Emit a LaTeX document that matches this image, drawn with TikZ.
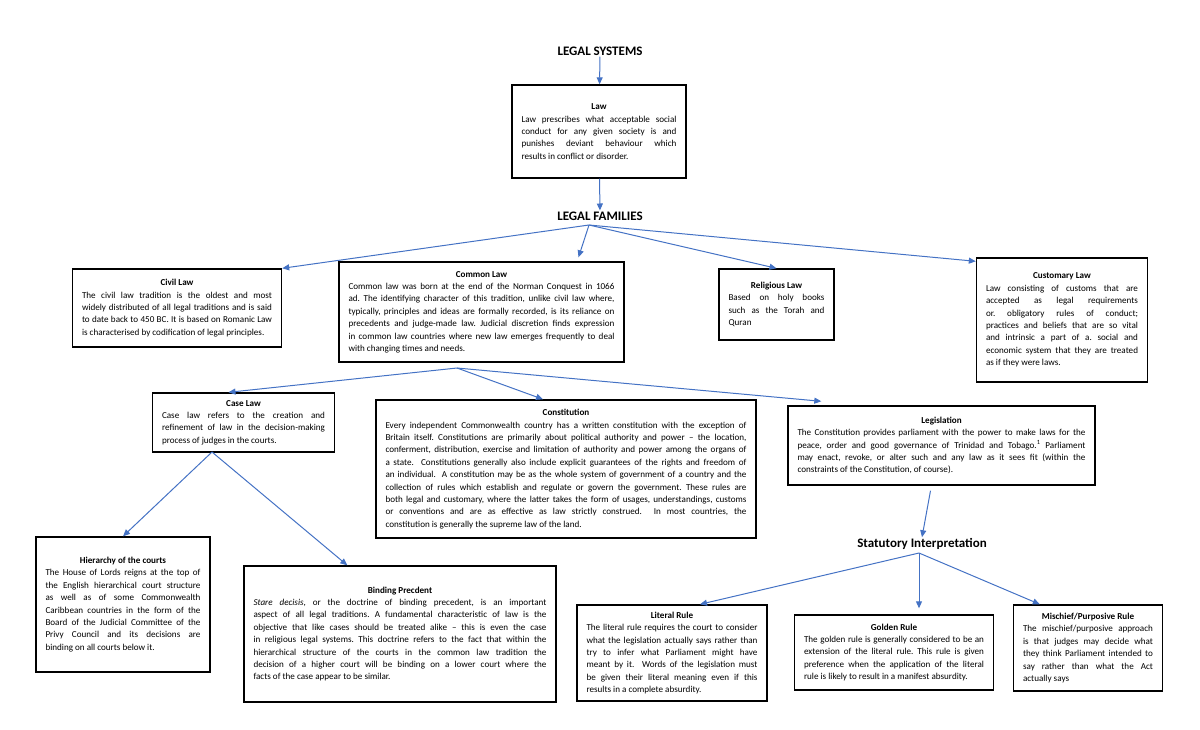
\documentclass[tikz,border=0pt]{standalone}
\usepackage{fontspec}
\setmainfont{Carlito}
\usetikzlibrary{arrows.meta}
\definecolor{linkblue}{HTML}{4472C4}
\frenchspacing
\hyphenpenalty=10000
\exhyphenpenalty=10000

\begin{document}
\begin{tikzpicture}[x = 1pt, y = -1pt, box/.style = {draw, line width = 1.4pt, align = justify, inner xsep = 9.5pt, inner ysep = 0pt, font = \fontsize{9.1}{12.4}\selectfont}, heading/.style = {font = \fontsize{13}{15}\selectfont\bfseries, inner sep = 1pt}, link/.style = {draw = linkblue, line width = 1pt, -{Triangle[length = 7pt, width = 6pt]}}]
        \useasboundingbox (0, 0) rectangle (1200, 729);
        \node[heading] (sys) at (600, 51) {LEGAL SYSTEMS};
        \node[heading] (fam) at (600, 216) {LEGAL FAMILIES};
        \node[heading] (stat) at (922, 544) {Statutory Interpretation};
        \node[box, text width = 155pt, minimum height = 93pt] (law) at (599, 131.5) {\makebox[\hsize]{\textbf{Law}}\\
            Law prescribes what acceptable social\linebreak conduct for any given society is and\linebreak punishes deviant behaviour which\linebreak results in conflict or disorder.};
        \node[box, text width = 190pt, minimum height = 78pt] (civil) at (177, 308) {\makebox[\hsize]{\textbf{Civil Law}}\\
            The civil law tradition is the oldest and most\linebreak widely distributed of all legal traditions and is said\linebreak to date back to 450 BC. It is based on Romanic Law\linebreak is characterised by codification of legal principles.};
        \node[box, text width = 266pt, minimum height = 100pt] (common) at (481.5, 312) {\makebox[\hsize]{\textbf{Common Law}}\\
            Common law was born at the end of the Norman Conquest in 1066\linebreak ad. The identifying character of this tradition, unlike civil law where,\linebreak typically, principles and ideas are formally recorded, is its reliance on\linebreak precedents and judge-made law. Judicial discretion finds expression\linebreak in common law countries where new law emerges frequently to deal\linebreak with changing times and needs.};
        \node[box, text width = 96pt, minimum height = 71pt] (religious) at (776.5, 304.5) {\makebox[\hsize]{\textbf{Religious Law}}\\
            Based on holy books\linebreak such as the Torah and\linebreak Quran};
        \node[box, text width = 152pt, minimum height = 124pt] (customary) at (1062, 320) {\makebox[\hsize]{\textbf{Customary Law}}\\
            Law consisting of customs that are\linebreak accepted as legal requirements\linebreak or. obligatory rules of conduct;\linebreak practices and beliefs that are so vital\linebreak and intrinsic a part of a. social and\linebreak economic system that they are treated\linebreak as if they were laws.};
        \node[box, text width = 163pt, minimum height = 59pt] (case) at (243.5, 422.5) {\makebox[\hsize]{\textbf{Case Law}}\\
            Case law refers to the creation and\linebreak refinement of law in the decision-making\linebreak process of judges in the courts.};
        \node[box, text width = 361pt, minimum height = 138pt] (constitution) at (566, 469) {\makebox[\hsize]{\textbf{Constitution}}\\
            Every independent Commonwealth country has a written constitution with the exception of\linebreak Britain itself. Constitutions are primarily about political authority and power -- the location,\linebreak conferment, distribution, exercise and limitation of authority and power among the organs of\linebreak a state.\ \ Constitutions generally also include explicit guarantees of the rights and freedom of\linebreak an individual.\ \ A constitution may be as the whole system of government of a country and the\linebreak collection of rules which establish and regulate or govern the government. These rules are\linebreak both legal and customary, where the latter takes the form of usages, understandings, customs\linebreak or conventions and are as effective as law strictly construed.\ \ In most countries, the\linebreak constitution is generally the supreme law of the land.};
        \node[box, text width = 288pt, minimum height = 79pt] (legislation) at (941.5, 445.5) {\makebox[\hsize]{\textbf{Legislation}}\\
            The Constitution provides parliament with the power to make laws for the\linebreak peace, order and good governance of Trinidad and Tobago.\textsuperscript{1} Parliament\linebreak may enact, revoke, or alter such and any law as it sees fit (within the\linebreak constraints of the Constitution, of course).};
        \node[box, text width = 155pt, minimum height = 135pt] (hierarchy) at (123, 604.5) {\makebox[\hsize]{\textbf{Hierarchy of the courts}}\\
            The House of Lords reigns at the top of\linebreak the English hierarchical court structure\linebreak as well as of some Commonwealth\linebreak Caribbean countries in the form of the\linebreak Board of the Judicial Committee of the\linebreak Privy Council and its decisions are\linebreak binding on all courts below it.};
        \node[box, text width = 293pt, minimum height = 136pt] (binding) at (400, 634) {\makebox[\hsize]{\textbf{Binding Precdent}}\\
            \textit{Stare decisis}, or the doctrine of binding precedent, is an important\linebreak aspect of all legal traditions. A fundamental characteristic of law is the\linebreak objective that like cases should be treated alike -- this is even the case\linebreak in religious legal systems. This doctrine refers to the fact that within the\linebreak hierarchical structure of the courts in the common law tradition the\linebreak decision of a higher court will be binding on a lower court where the\linebreak facts of the case appear to be similar.};
        \node[box, text width = 171pt, minimum height = 96pt] (literal) at (672, 653) {\makebox[\hsize]{\textbf{Literal Rule}}\\
            The literal rule requires the court to consider\linebreak what the legislation actually says rather than\linebreak try to infer what Parliament might have\linebreak meant by it.\ \ Words of the legislation must\linebreak be given their literal meaning even if this\linebreak results in a complete absurdity.};
        \node[box, text width = 180pt, minimum height = 75pt] (golden) at (894, 652.5) {\makebox[\hsize]{\textbf{Golden Rule}}\\
            The golden rule is generally considered to be an\linebreak extension of the literal rule. This rule is given\linebreak preference when the application of the literal\linebreak rule is likely to result in a manifest absurdity.};
        \node[box, text width = 130pt, minimum height = 86pt] (mischief) at (1088, 648) {\makebox[\hsize]{\textbf{Mischief/Purposive Rule}}\\
            The mischief/purposive approach\linebreak is that judges may decide what\linebreak they think Parliament intended to\linebreak say rather than what the Act\linebreak actually says};
        \coordinate (famfork) at (589, 225);
        \coordinate (commonfork) at (457, 368);
        \coordinate (casefork) at (212, 452);
        \coordinate (statfork) at (919, 553);
        \draw[link] (sys) -- (law);
        \draw[link] (law) -- (fam);
        \draw[link] (famfork) -- (civil.north east);
        \draw[link] (famfork) -- ([xshift = 97pt, yshift = 4pt]common.north);
        \draw[link] (famfork) -- (religious.north);
        \draw[link] (famfork) -- ([yshift = -4pt]customary.north west);
        \draw[link] (commonfork) -- ([xshift = -15pt]case.north);
        \draw[link] (commonfork) -- ([xshift = -23pt]constitution.north);
        \draw[link] (commonfork) -- ([xshift = 34pt, yshift = 4pt]legislation.north west);
        \draw[link] (casefork) -- (hierarchy.north);
        \draw[link] (casefork) -- ([xshift = 104pt]binding.north west);
        \draw[link] ([xshift = -11pt, yshift = -5pt]legislation.south) -- (stat.north);
        \draw[link] (statfork) -- ([xshift = 28pt]literal.north);
        \draw[link, shorten > = 6pt] (statfork) -- (statfork |- golden.north);
        \draw[link] (statfork) -- ([xshift = 27pt]mischief.north west);
    \end{tikzpicture}
\end{document}
